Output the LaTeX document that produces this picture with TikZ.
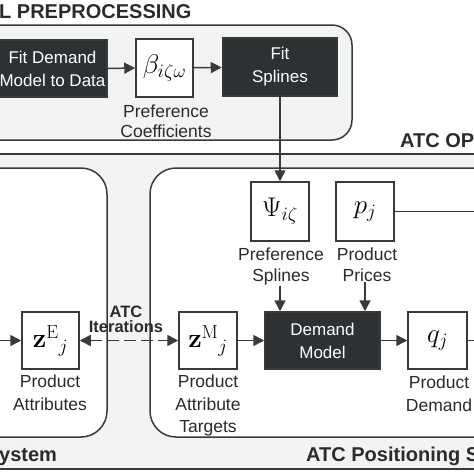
\RequirePackage{fix-cm}
\documentclass[tikz,border=0pt]{standalone}
\usepackage[no-math]{fontspec}
\setmainfont{Liberation Sans}
\usetikzlibrary{arrows.meta}
\definecolor{dark}{HTML}{2E3133}
\definecolor{edge}{HTML}{3A3A3A}
\definecolor{panelgray}{HTML}{F2F3F3}
\definecolor{txt}{HTML}{2B2B2B}
\tikzset{
 box/.style={draw=edge, line width=1.5pt, fill=white, minimum width=57pt, minimum height=57pt, inner sep=0pt, font=\fontsize{27}{27}\selectfont},
 darkbox/.style={draw=edge, line width=1.5pt, fill=dark, text=white, inner sep=0pt, align=center, font=\fontsize{17}{23}\selectfont},
 lab/.style={anchor=north, inner sep=0pt, align=center, text=txt, font=\fontsize{17.5}{22.5}\selectfont},
 titletext/.style={anchor=base west, inner sep=0pt, text=txt, font=\fontsize{20}{20}\selectfont\bfseries},
 arr/.style={draw=edge, line width=1.5pt, -{Triangle[length=11pt,width=11pt]}},
 darr/.style={draw=edge, line width=1.5pt, {Triangle[length=11pt,width=11pt]}-{Triangle[length=11pt,width=11pt]}, dash pattern=on 12pt off 5pt},
 conn/.style={draw=edge, line width=1.5pt},
 panel/.style={draw=edge, line width=1.5pt},
}
\begin{document}
\begin{tikzpicture}[x=1pt,y=-1pt]
\useasboundingbox (0,0) rectangle (474,474);
\clip (0,0) rectangle (474,474);
% ATC band
\fill[panelgray] (-30,154) rectangle (510,469);
\draw[panel] (-30,154) -- (510,154);
\draw[panel] (-30,469) -- (510,469);
\draw[panel, fill=white, rounded corners=26pt] (-40,168) rectangle (107,437);
\draw[panel, fill=white, rounded corners=26pt] (150,168) rectangle (520,437);
% preprocessing panel
\draw[panel, fill=panelgray, rounded corners=20pt] (-40,25) rectangle (352,140);
% titles
\node[titletext] (t1) at (-1,18) {L PREPROCESSING};
\node[titletext] (t2) at (400,147) {ATC OP};
\node[titletext] (t3) at (-1,461) {ystem};
\node[titletext] (t4) at (306,461) {ATC Positioning S};
% boxes
\node[darkbox, minimum width=109pt, minimum height=57pt] (fitdm) at (52.5,68.5) {Fit Demand\\Model to Data};
\node[box, minimum height=58pt] (beta) at (164.5,68) {$\beta_{i\zeta\omega}$};
\node[darkbox, minimum width=115pt, minimum height=58pt] (fitsp) at (280,67) {Fit\\Splines};
\node[box, minimum width=58pt, minimum height=59pt] (psi) at (280,211.5) {$\Psi_{i\zeta}$};
\node[box, minimum width=58pt, minimum height=59pt] (pj) at (365,211.5) {$p_j$};
\node[darkbox, minimum width=115pt, minimum height=57pt] (dm) at (322.5,340.5) {Demand\\Model};
\node[box, minimum width=59pt] (qj) at (437.5,340.5) {$q_j$};
\node[box] (zE) at (50.5,340.5) {$\mathbf{z}^{\mathrm{E}}{}_{j}$};
\node[box, minimum width=58pt] (zM) at (208,340.5) {$\mathbf{z}^{\mathrm{M}}{}_{j}$};
% labels
\node[lab, font=\fontsize{17.5}{19.5}\selectfont] (betalab) at (166,105) {Preference\\Coefficients};
\node[lab, font=\fontsize{17.5}{21}\selectfont] (psilab) at (281,248) {Preference\\Splines};
\node[lab, font=\fontsize{17.5}{21}\selectfont] (pjlab) at (367,248) {Product\\Prices};
\node[lab] (zElab) at (50,375) {Product\\Attributes};
\node[lab] (zMlab) at (208,375) {Product\\Attribute\\Targets};
\node[lab] (qjlab) at (439,376) {Product\\Demand};
\node[anchor=north, inner sep=0pt, align=center, text=txt, font=\fontsize{16.5}{15}\selectfont\bfseries] (atcit) at (126,306) {ATC\\Iterations};
% free ends
\coordinate (pjout) at (480,211.5);
\coordinate (qjout) at (480,340.5);
\coordinate (zin) at (-10,340.5);
% connectors
\draw[arr] (fitdm.east) -- (beta.west);
\draw[arr] (beta) -- (fitsp);
\draw[arr] (fitsp) -- (psi);
\draw[arr] (psilab.south -| psi.south) -- (psi.south |- dm.north);
\draw[arr] (pjlab.south -| pj.south) -- (pj.south |- dm.north);
\draw[conn] (pj.east) -- (pjout);
\draw[arr] (zin) -- (zE.west);
\draw[darr] (zE) -- (zM);
\draw[arr] (zM) -- (dm);
\draw[arr] (dm) -- (qj);
\draw[conn] (qj.east) -- (qjout);
\end{tikzpicture}
\end{document}
